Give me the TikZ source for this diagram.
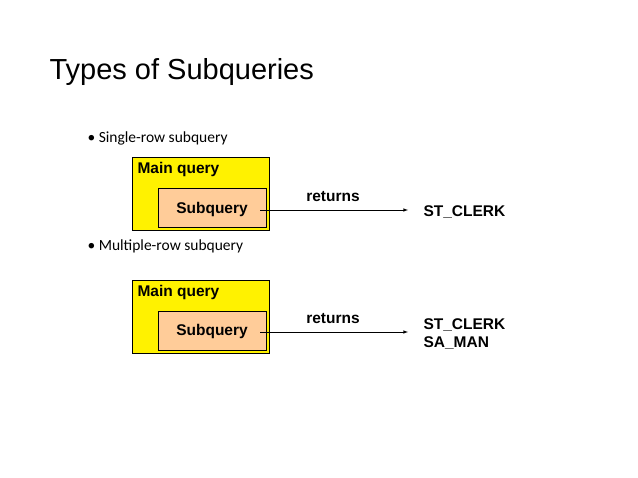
\documentclass[tikz,border=0pt]{standalone}
\usepackage{fontspec}
\setmainfont{Liberation Sans}
\newfontfamily\bodyfont{Carlito}
\usetikzlibrary{arrows}
\tikzset{
  mainq/.style={draw, line width=1.2pt, fill=yellow, minimum width=137pt, minimum height=73pt, anchor=north west},
  subq/.style={draw, line width=1.2pt, fill=orange!40!white, minimum width=108pt, minimum height=39pt, anchor=north west},
  lbl/.style={font=\bfseries\fontsize{15.5pt}{18pt}\selectfont},
  bullet/.style={anchor=west, font=\bodyfont\fontsize{15.5pt}{18pt}\selectfont}
}
\begin{document}
\begin{tikzpicture}[x=1pt, y=-1pt, >=latex]
\useasboundingbox (0,0) rectangle (638,478);
% Title and bullets
\node [anchor=west, font=\fontsize{29pt}{34pt}\selectfont] (title) at (46,72) {Types of Subqueries};
\node [bullet] (b1) at (84,138) {\textbullet\ Single-row subquery};
\node [bullet] (b2) at (84,246) {\textbullet\ Multiple-row subquery};
% Single-row
\node [mainq] (main1) at (132,157) {};
\node [lbl, anchor=north west] (mt1) at (134,159) {Main query};
\node [subq] (sub1) at (158,188) {};
\node [lbl] (st1) at (212,209) {Subquery};
\coordinate (s1) at (260,210);
\node [lbl, anchor=west] (r1) at (420,212) {ST\_CLERK};
\coordinate (e1) at (408,210);
\draw [semithick, ->] (s1) -- (e1);
\node [lbl] (ret1) at (333,197) {returns};
% Multiple-row
\node [mainq] (main2) at (132,280) {};
\node [lbl, anchor=north west] (mt2) at (134,282) {Main query};
\node [subq] (sub2) at (158,311) {};
\node [lbl] (st2) at (212,331) {Subquery};
\coordinate (s2) at (260,332);
\node [lbl, anchor=west, align=left] (r2) at (420,334) {ST\_CLERK\\SA\_MAN};
\coordinate (e2) at (408,332);
\draw [semithick, ->] (s2) -- (e2);
\node [lbl] (ret2) at (333,319) {returns};
\end{tikzpicture}
\end{document}
